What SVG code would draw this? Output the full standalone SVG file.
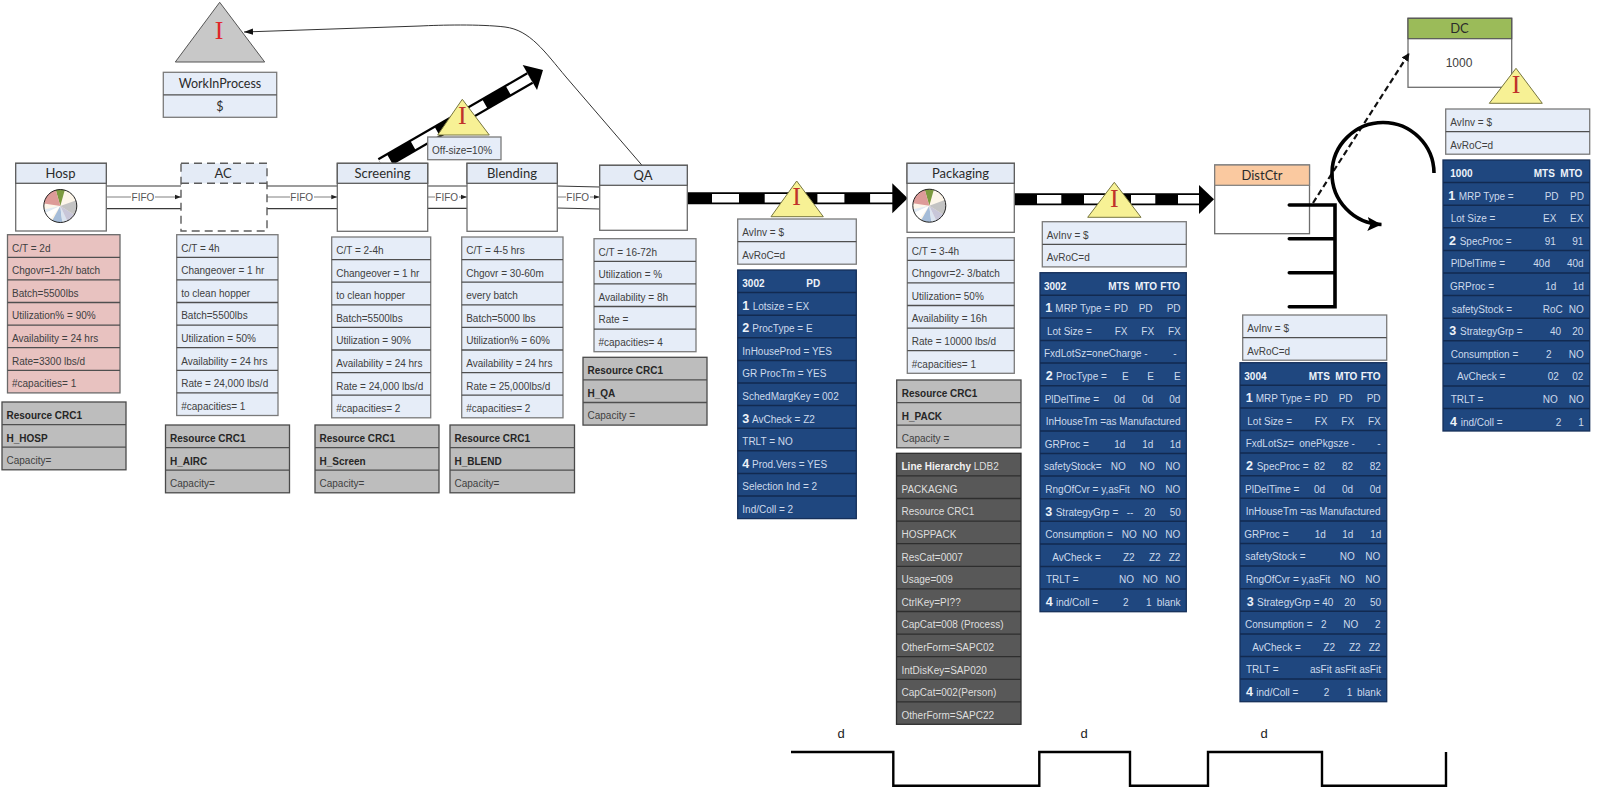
<svg xmlns="http://www.w3.org/2000/svg" width="1600" height="790" viewBox="0 0 1600 790">
<style>
text{font-family:"Liberation Sans",Arial,sans-serif;font-size:10px;fill:#404040}
.ttl{font-family:Lato,"Liberation Sans",sans-serif;font-size:13px;fill:#2b2b2b;text-anchor:middle}
.ser{font-family:"Liberation Serif",serif;font-size:26px;text-anchor:middle;fill:#c0322a}
.box{fill:#fff;stroke:#6e6e6e;stroke-width:1.3}
.hd{fill:#e4ebf6;stroke:#5c5c5c;stroke-width:1.3}
.lt{fill:#e6edf8;stroke:#7a7a7a;stroke-width:1.3}
.pk{fill:#e8c2c0;stroke:#6a6a6a;stroke-width:1.3}
.gy{fill:#bdbdbd;stroke:#4a4a4a;stroke-width:1.3}
.dk{fill:#585858;stroke:#2e2e2e;stroke-width:1.3}
.bl{fill:#1f477f;stroke:#16305a;stroke-width:1.3}
.dv{fill:none;stroke:#4f4f4f;stroke-width:1.3}
.dvb{fill:none;stroke:#122a50;stroke-width:1.5}
.dvd{fill:none;stroke:#2e2e2e;stroke-width:1.3}
.yt{fill:#f7f195;stroke:#77763f;stroke-width:1}
.dark text{fill:#dedede}
.dark .hb{fill:#f2f2f2;font-weight:bold}
.blue text{fill:#cddaec}
.blue .hb{fill:#eef3fa;font-weight:bold}
.blue .n{fill:#eef3fa;font-weight:bold;font-size:12.5px}
.grey .hb{fill:#262626;font-weight:bold}
.fifo{fill:#555;text-anchor:middle}
.tl{fill:none;stroke:#3a3a3a;stroke-width:1.2}
.fl{fill:none;stroke:#808080;stroke-width:1}
.th{fill:none;stroke:#000;stroke-width:12}
.wh{fill:none;stroke:#fff;stroke-width:8.5}
.blk{fill:#000;stroke:none}
.k4{fill:none;stroke:#000;stroke-width:3.6;stroke-linecap:round}
.stp{fill:none;stroke:#000;stroke-width:2.4}
</style>
<defs>
<marker id="sm" markerUnits="userSpaceOnUse" markerWidth="7" markerHeight="6" refX="6" refY="3" orient="auto"><path d="M0 .8L6 3L0 5.2Z" fill="#222"/></marker>
<marker id="cv" markerUnits="userSpaceOnUse" markerWidth="10" markerHeight="8" refX="9" refY="4" orient="auto"><path d="M0 .8L9 4L0 7.2Z" fill="#111"/></marker>
<marker id="ds" markerUnits="userSpaceOnUse" markerWidth="10" markerHeight="10" refX="8" refY="5" orient="auto"><path d="M0 1L8 5L0 9Z" fill="#111"/></marker>
<marker id="ar" markerUnits="userSpaceOnUse" markerWidth="16" markerHeight="14" refX="14" refY="7" orient="auto"><path d="M0 0L14 7L0 14L3 7Z" fill="#000"/></marker>
<g id="pie">
<circle r="16.5" fill="#fdf6ea"/>
<path d="M0 0L-4.5 -15.9A16.5 16.5 0 0 1 4.5 -15.9Z" fill="#7c9a3e"/>
<path d="M0 0L-4.5 -15.9A16.5 16.5 0 0 0 -16.3 -2.5Z" fill="#dd9b98"/>
<path d="M0 0L-16.3 3.5A16.5 16.5 0 0 0 -15 7Z" fill="#dfe9f3"/>
<path d="M0 0L-15 7A16.5 16.5 0 0 0 -10 13.2Z" fill="#fff"/>
<path d="M0 0L-8 14.4A16.5 16.5 0 0 0 2 16.4Z" fill="#a5bcd8"/>
<path d="M0 0L2 16.4A16.5 16.5 0 0 0 7 15Z" fill="#dbe4f0"/>
<path d="M0 0L7 15A16.5 16.5 0 0 0 14 8.8Z" fill="#c8c6d8"/>
<path d="M0 0L14 8.8A16.5 16.5 0 0 0 15.5 -5.6Z" fill="#c3c3c3"/>
<circle r="16.5" fill="none" stroke="#222" stroke-width="1"/>
</g>
</defs>

<g id="connectors">
<path class="tl" d="M106.3 186H181M106.3 208.7H181M267 186H337.3M267 208.7H337.3M427.7 186H467M427.7 208.3H467M557.3 186L599.7 187M557.3 208L599.7 209"/>
<path class="fl" d="M106.3 197H131"/><path class="fl" d="M155 197H181" marker-end="url(#sm)"/>
<path class="fl" d="M267 197H290"/><path class="fl" d="M314 197H337.3" marker-end="url(#sm)"/>
<path class="fl" d="M427.7 197H435"/><path class="fl" d="M459 197H467" marker-end="url(#sm)"/>
<path class="fl" d="M557.3 197H566"/><path class="fl" d="M590 197H599.7" marker-end="url(#sm)"/>
<text class="fifo" x="143" y="200.5">FIFO</text>
<text class="fifo" x="301.7" y="200.5">FIFO</text>
<text class="fifo" x="446.7" y="200.5">FIFO</text>
<text class="fifo" x="577.7" y="200.5">FIFO</text>
<path d="M642 165.3L566 77C545 52 530 30 505 27C480 24 440 25 420 26L244 32" fill="none" stroke="#333" stroke-width="1" marker-end="url(#cv)"/>
<path class="th" style="stroke-width:13" d="M381 164L530 78"/>
<path class="wh" d="M381 164L530 78" stroke-dasharray="28 27" stroke-dashoffset="-37"/>
<polygon class="blk" points="543,70 522.7,65 537,90"/>
<path class="th" d="M687 198.3H893"/>
<path class="wh" d="M687 198.3H893" stroke-dasharray="27 25.7" stroke-dashoffset="-25"/>
<polygon class="blk" points="907.7,198.3 892.3,183.3 892.3,213.3"/>
<path class="th" d="M1014 199.3H1200"/>
<path class="wh" d="M1014 199.3H1200" stroke-dasharray="24.3 22.7" stroke-dashoffset="-23"/>
<polygon class="blk" points="1214,199.3 1199,185 1199,214"/>
</g>

<g id="wip">
<polygon points="219.7,2.3 175.3,62 264.7,62" fill="#c8c8c8" stroke="#555" stroke-width="1"/>
<text class="ser" x="219" y="39.3" style="fill:#e0262a">I</text>
<g transform="translate(163.3 72.3)"><rect class="lt" width="113.4" height="45"/><path class="dv" d="M0 22.5H113.4"/>
<text class="ttl" x="56.7" y="16" style="font-size:12.5px">WorkInProcess</text><text class="ttl" x="56.7" y="39" style="font-size:12.5px">$</text></g>
</g>

<g id="hosp">
<rect class="box" x="15.7" y="163.3" width="90.6" height="67.7"/><rect class="hd" x="15.7" y="163.3" width="90.6" height="20"/>
<text class="ttl" x="60.5" y="178">Hosp</text>
<use href="#pie" x="60.3" y="206"/>
<g transform="translate(7.5 234.7)"><rect class="pk" width="112.5" height="158.2"/><path class="dv" d="M0 22.6H112.5M0 45.2H112.5M0 67.8H112.5M0 90.4H112.5M0 113H112.5M0 135.6H112.5"/>
<text x="4.5" y="17">C/T = 2d</text><text x="4.5" y="39.6">Chgovr=1-2h/ batch</text><text x="4.5" y="62.2">Batch=5500lbs</text><text x="4.5" y="84.8">Utilization% = 90%</text><text x="4.5" y="107.4">Availability = 24 hrs</text><text x="4.5" y="130">Rate=3300 lbs/d</text><text x="4.5" y="152.6">#capacities= 1</text></g>
<g class="grey" transform="translate(2 402)"><rect class="gy" width="124" height="67.8"/><path class="dv" d="M0 22.6H124M0 45.2H124"/>
<text class="hb" x="4.5" y="17">Resource CRC1</text><text class="hb" x="4.5" y="39.6">H_HOSP</text><text x="4.5" y="62.2">Capacity=</text></g>
</g>

<g id="ac">
<rect x="181" y="163.3" width="86" height="67.7" fill="#fff"/><rect x="181" y="163.3" width="86" height="20" fill="#e4ebf6"/>
<path d="M181 183.3H267M181 163.3H267V231H181Z" fill="none" stroke="#5c5c5c" stroke-width="1.4" stroke-dasharray="8 5"/>
<text class="ttl" x="223" y="178">AC</text>
<g transform="translate(176.7 234.7)"><rect class="lt" width="101.3" height="180.8"/><path class="dv" d="M0 22.6H101.3M0 45.2H101.3M0 67.8H101.3M0 90.4H101.3M0 113H101.3M0 135.6H101.3M0 158.2H101.3"/>
<text x="4.5" y="17">C/T = 4h</text><text x="4.5" y="39.6">Changeover = 1 hr</text><text x="4.5" y="62.2">to clean hopper</text><text x="4.5" y="84.8">Batch=5500lbs</text><text x="4.5" y="107.4">Utilization = 50%</text><text x="4.5" y="130">Availability = 24 hrs</text><text x="4.5" y="152.6">Rate = 24,000 lbs/d</text><text x="4.5" y="175.2">#capacities= 1</text></g>
<g class="grey" transform="translate(165.5 425)"><rect class="gy" width="124" height="67.8"/><path class="dv" d="M0 22.6H124M0 45.2H124"/>
<text class="hb" x="4.5" y="17">Resource CRC1</text><text class="hb" x="4.5" y="39.6">H_AIRC</text><text x="4.5" y="62.2">Capacity=</text></g>
</g>

<g id="screening">
<rect class="box" x="337.3" y="163.3" width="90.4" height="68"/><rect class="hd" x="337.3" y="163.3" width="90.4" height="20"/>
<text class="ttl" x="382.5" y="178">Screening</text>
<g transform="translate(331.7 237)"><rect class="lt" width="99" height="180.8"/><path class="dv" d="M0 22.6H99M0 45.2H99M0 67.8H99M0 90.4H99M0 113H99M0 135.6H99M0 158.2H99"/>
<text x="4.5" y="17">C/T = 2-4h</text><text x="4.5" y="39.6">Changeover = 1 hr</text><text x="4.5" y="62.2">to clean hopper</text><text x="4.5" y="84.8">Batch=5500lbs</text><text x="4.5" y="107.4">Utilization = 90%</text><text x="4.5" y="130">Availability = 24 hrs</text><text x="4.5" y="152.6">Rate = 24,000 lbs/d</text><text x="4.5" y="175.2">#capacities= 2</text></g>
<g class="grey" transform="translate(315 425)"><rect class="gy" width="124" height="67.8"/><path class="dv" d="M0 22.6H124M0 45.2H124"/>
<text class="hb" x="4.5" y="17">Resource CRC1</text><text class="hb" x="4.5" y="39.6">H_Screen</text><text x="4.5" y="62.2">Capacity=</text></g>
</g>

<g id="offsize">
<polygon class="yt" points="462.3,99.3 437.7,135 489.3,135"/>
<text class="ser" x="462.3" y="124">I</text>
<rect class="lt" x="427.7" y="137" width="73.3" height="22.7"/>
<text x="432" y="154">Off-size=10%</text>
</g>

<g id="blending">
<rect class="box" x="467" y="163.3" width="90.3" height="68"/><rect class="hd" x="467" y="163.3" width="90.3" height="20"/>
<text class="ttl" x="512" y="178">Blending</text>
<g transform="translate(461.7 237)"><rect class="lt" width="101.3" height="180.8"/><path class="dv" d="M0 22.6H101.3M0 45.2H101.3M0 67.8H101.3M0 90.4H101.3M0 113H101.3M0 135.6H101.3M0 158.2H101.3"/>
<text x="4.5" y="17">C/T = 4-5 hrs</text><text x="4.5" y="39.6">Chgovr = 30-60m</text><text x="4.5" y="62.2">every batch</text><text x="4.5" y="84.8">Batch=5000 lbs</text><text x="4.5" y="107.4">Utilization% = 60%</text><text x="4.5" y="130">Availability = 24 hrs</text><text x="4.5" y="152.6">Rate = 25,000lbs/d</text><text x="4.5" y="175.2">#capacities= 2</text></g>
<g class="grey" transform="translate(450 425)"><rect class="gy" width="124.5" height="67.8"/><path class="dv" d="M0 22.6H124.5M0 45.2H124.5"/>
<text class="hb" x="4.5" y="17">Resource CRC1</text><text class="hb" x="4.5" y="39.6">H_BLEND</text><text x="4.5" y="62.2">Capacity=</text></g>
</g>

<g id="qa">
<rect class="box" x="599.7" y="165.3" width="87.6" height="65"/><rect class="hd" x="599.7" y="165.3" width="87.6" height="20"/>
<text class="ttl" x="643" y="180">QA</text>
<g transform="translate(594 238.7)"><rect class="lt" width="102" height="113"/><path class="dv" d="M0 22.6H102M0 45.2H102M0 67.8H102M0 90.4H102"/>
<text x="4.5" y="17">C/T = 16-72h</text><text x="4.5" y="39.6">Utilization = %</text><text x="4.5" y="62.2">Availability = 8h</text><text x="4.5" y="84.8">Rate =</text><text x="4.5" y="107.4">#capacities= 4</text></g>
<g class="grey" transform="translate(583 357.3)"><rect class="gy" width="124" height="67.8"/><path class="dv" d="M0 22.6H124M0 45.2H124"/>
<text class="hb" x="4.5" y="17">Resource CRC1</text><text class="hb" x="4.5" y="39.6">H_QA</text><text x="4.5" y="62.2">Capacity =</text></g>
</g>

<g id="inv3002pd">
<polygon class="yt" points="796.7,181 771,216.7 823.3,216.7"/>
<text class="ser" x="796.7" y="205">I</text>
<g transform="translate(737.7 219)"><rect class="lt" width="118.6" height="45.2"/><path class="dv" d="M0 22.6H118.6"/><text x="4.5" y="17">AvInv = $</text><text x="4.5" y="39.6">AvRoC=d</text></g>
<g class="blue" transform="translate(737.7 270)"><rect class="bl" width="118.6" height="248.6"/><path class="dvb" d="M0 22.6H118.6M0 45.2H118.6M0 67.8H118.6M0 90.4H118.6M0 113H118.6M0 135.6H118.6M0 158.2H118.6M0 180.8H118.6M0 203.4H118.6M0 226H118.6"/>
<text class="hb" x="4.6" y="17">3002</text><text class="hb" x="68.6" y="17">PD</text>
<text class="n" x="4.6" y="39.6">1</text><text x="15" y="39.6">Lotsize = EX</text>
<text class="n" x="4.6" y="62.2">2</text><text x="14.6" y="62.2">ProcType = E</text>
<text x="4.6" y="84.8">InHouseProd = YES</text>
<text x="4.6" y="107.4">GR ProcTm = YES</text>
<text x="4.6" y="130">SchedMargKey = 002</text>
<text class="n" x="4.6" y="152.6">3</text><text x="14.3" y="152.6">AvCheck = Z2</text>
<text x="4.6" y="175.2">TRLT = NO</text>
<text class="n" x="4.6" y="197.8">4</text><text x="14.3" y="197.8">Prod.Vers = YES</text>
<text x="4.6" y="220.4">Selection Ind = 2</text>
<text x="4.6" y="243">Ind/Coll = 2</text></g>
</g>

<g id="packaging">
<rect class="box" x="907" y="163.3" width="107.3" height="69"/><rect class="hd" x="907" y="163.3" width="107.3" height="20"/>
<text class="ttl" x="960.5" y="178">Packaging</text>
<use href="#pie" x="929.3" y="205.7"/>
<g transform="translate(907.3 237.7)"><rect class="lt" width="107" height="135.6"/><path class="dv" d="M0 22.6H107M0 45.2H107M0 67.8H107M0 90.4H107M0 113H107"/>
<text x="4.5" y="17">C/T = 3-4h</text><text x="4.5" y="39.6">Chngovr=2- 3/batch</text><text x="4.5" y="62.2">Utilization= 50%</text><text x="4.5" y="84.8">Availability = 16h</text><text x="4.5" y="107.4">Rate = 10000 lbs/d</text><text x="4.5" y="130">#capacities= 1</text></g>
<g class="grey" transform="translate(896.7 380)"><rect class="gy" width="124.3" height="67.8"/><path class="dv" d="M0 22.6H124.3M0 45.2H124.3"/>
<text class="hb" x="5" y="17">Resource CRC1</text><text class="hb" x="5" y="39.6">H_PACK</text><text x="5" y="62.2">Capacity =</text></g>
<g class="dark" transform="translate(896.5 453.3)"><rect class="dk" width="124.5" height="271"/><path class="dvd" d="M0 22.6H124.5M0 45.2H124.5M0 67.8H124.5M0 90.4H124.5M0 113H124.5M0 135.6H124.5M0 158.2H124.5M0 180.8H124.5M0 203.4H124.5M0 226H124.5M0 248.6H124.5"/>
<text x="5" y="17"><tspan class="hb">Line Hierarchy</tspan> LDB2</text>
<text x="5" y="39.6">PACKAGNG</text><text x="5" y="62.2">Resource CRC1</text><text x="5" y="84.8">HOSPPACK</text><text x="5" y="107.4">ResCat=0007</text><text x="5" y="130">Usage=009</text><text x="5" y="152.6">CtrlKey=PI??</text><text x="5" y="175.2">CapCat=008 (Process)</text><text x="5" y="197.8">OtherForm=SAPC02</text><text x="5" y="220.4">IntDisKey=SAP020</text><text x="5" y="243">CapCat=002(Person)</text><text x="5" y="265.6">OtherForm=SAPC22</text></g>
</g>

<g id="inv3002">
<polygon class="yt" points="1114.3,182.3 1087.7,217.3 1141,217.3"/>
<text class="ser" x="1114.3" y="206.7">I</text>
<g transform="translate(1042.3 221.7)"><rect class="lt" width="144" height="45.2"/><path class="dv" d="M0 22.6H144"/><text x="4.5" y="17">AvInv = $</text><text x="4.5" y="39.6">AvRoC=d</text></g>
<g class="blue" transform="translate(1040 272.7)"><rect class="bl" width="146.3" height="339"/><path class="dvb" d="M0 22.6H146.3M0 45.2H146.3M0 67.8H146.3M0 90.4H146.3M0 113H146.3M0 135.6H146.3M0 158.2H146.3M0 180.8H146.3M0 203.4H146.3M0 226H146.3M0 248.6H146.3M0 271.2H146.3M0 293.8H146.3M0 316.4H146.3"/>
<text class="hb" x="4" y="17">3002</text><text class="hb" x="68.3" y="17">MTS</text><text class="hb" x="95" y="17">MTO</text><text class="hb" x="120.3" y="17">FTO</text>
<text class="n" x="5.3" y="39.6">1</text><text x="15.3" y="39.6">MRP Type =</text><text x="74" y="39.6">PD</text><text x="98.7" y="39.6">PD</text><text x="126.7" y="39.6">PD</text>
<text x="7" y="62.2">Lot Size =</text><text x="74.7" y="62.2">FX</text><text x="101.3" y="62.2">FX</text><text x="128" y="62.2">FX</text>
<text x="4" y="84.8">FxdLotSz=oneCharge -</text><text x="133.3" y="84.8">-</text>
<text class="n" x="5.7" y="107.4">2</text><text x="16" y="107.4">ProcType  =</text><text x="82" y="107.4">E</text><text x="107.3" y="107.4">E</text><text x="134" y="107.4">E</text>
<text x="4.7" y="130">PlDelTime =</text><text x="74" y="130">0d</text><text x="102" y="130">0d</text><text x="129.3" y="130">0d</text>
<text x="5.7" y="152.6">InHouseTm =as Manufactured</text>
<text x="4.7" y="175.2">GRProc =</text><text x="74.3" y="175.2">1d</text><text x="102.3" y="175.2">1d</text><text x="129.7" y="175.2">1d</text>
<text x="4" y="197.8">safetyStock=</text><text x="70.7" y="197.8">NO</text><text x="99.7" y="197.8">NO</text><text x="125.3" y="197.8">NO</text>
<text x="5.3" y="220.4">RngOfCvr = y,asFit</text><text x="99.7" y="220.4">NO</text><text x="125.3" y="220.4">NO</text>
<text class="n" x="5.3" y="243">3</text><text x="15.7" y="243">StrategyGrp =</text><text x="86.7" y="243">--</text><text x="104.3" y="243">20</text><text x="129.7" y="243">50</text>
<text x="5.3" y="265.6">Consumption =</text><text x="81.7" y="265.6">NO</text><text x="102.3" y="265.6">NO</text><text x="125.3" y="265.6">NO</text>
<text x="12.3" y="288.2">AvCheck =</text><text x="83" y="288.2">Z2</text><text x="109" y="288.2">Z2</text><text x="128.7" y="288.2">Z2</text>
<text x="6" y="310.8">TRLT =</text><text x="79" y="310.8">NO</text><text x="102.7" y="310.8">NO</text><text x="125.3" y="310.8">NO</text>
<text class="n" x="5.7" y="333.4">4</text><text x="16" y="333.4">ind/Coll =</text><text x="83" y="333.4">2</text><text x="106" y="333.4">1</text><text x="116.7" y="333.4">blank</text></g>
</g>

<g id="distctr">
<rect class="box" x="1214.7" y="165" width="94.8" height="68.7"/><rect x="1214.7" y="165" width="94.8" height="20.3" fill="#fac9a0" stroke="#7c7c7c" stroke-width="1.2"/>
<text class="ttl" x="1262" y="180">DistCtr</text>
<g transform="translate(1242.7 315)"><rect class="lt" width="144" height="45.2"/><path class="dv" d="M0 22.6H144"/><text x="4.5" y="17">AvInv = $</text><text x="4.5" y="39.6">AvRoC=d</text></g>
<g class="blue" transform="translate(1240 362.7)"><rect class="bl" width="146.7" height="339"/><path class="dvb" d="M0 22.6H146.7M0 45.2H146.7M0 67.8H146.7M0 90.4H146.7M0 113H146.7M0 135.6H146.7M0 158.2H146.7M0 180.8H146.7M0 203.4H146.7M0 226H146.7M0 248.6H146.7M0 271.2H146.7M0 293.8H146.7M0 316.4H146.7"/>
<text class="hb" x="4.3" y="17">3004</text><text class="hb" x="68.7" y="17">MTS</text><text class="hb" x="95.3" y="17">MTO</text><text class="hb" x="120.7" y="17">FTO</text>
<text class="n" x="5.7" y="39.6">1</text><text x="15.7" y="39.6">MRP Type =</text><text x="74" y="39.6">PD</text><text x="98.7" y="39.6">PD</text><text x="126.7" y="39.6">PD</text>
<text x="7.3" y="62.2">Lot Size =</text><text x="74.7" y="62.2">FX</text><text x="101.3" y="62.2">FX</text><text x="128" y="62.2">FX</text>
<text x="5.7" y="84.8">FxdLotSz=</text><text x="59.3" y="84.8">onePkgsze -</text><text x="137.3" y="84.8">-</text>
<text class="n" x="6" y="107.4">2</text><text x="16.7" y="107.4">SpecProc =</text><text x="74" y="107.4">82</text><text x="102" y="107.4">82</text><text x="129.7" y="107.4">82</text>
<text x="5" y="130">PlDelTime =</text><text x="74" y="130">0d</text><text x="102" y="130">0d</text><text x="129.7" y="130">0d</text>
<text x="5.7" y="152.6">InHouseTm =as Manufactured</text>
<text x="4.3" y="175.2">GRProc =</text><text x="74.7" y="175.2">1d</text><text x="102.3" y="175.2">1d</text><text x="130.3" y="175.2">1d</text>
<text x="5.3" y="197.8">safetyStock =</text><text x="99.7" y="197.8">NO</text><text x="125.3" y="197.8">NO</text>
<text x="5.7" y="220.4">RngOfCvr = y,asFit</text><text x="99.7" y="220.4">NO</text><text x="125.3" y="220.4">NO</text>
<text class="n" x="6.7" y="243">3</text><text x="17" y="243">StrategyGrp = 40</text><text x="104.3" y="243">20</text><text x="130" y="243">50</text>
<text x="5" y="265.6">Consumption =</text><text x="81" y="265.6">2</text><text x="103.3" y="265.6">NO</text><text x="135" y="265.6">2</text>
<text x="12.3" y="288.2">AvCheck =</text><text x="83.3" y="288.2">Z2</text><text x="109" y="288.2">Z2</text><text x="128.7" y="288.2">Z2</text>
<text x="6" y="310.8">TRLT =</text><text x="70" y="310.8">asFit</text><text x="94.7" y="310.8">asFit</text><text x="119.3" y="310.8">asFit</text>
<text class="n" x="6" y="333.4">4</text><text x="16.3" y="333.4">ind/Coll =</text><text x="83.7" y="333.4">2</text><text x="106.7" y="333.4">1</text><text x="117" y="333.4">blank</text></g>
</g>

<g id="dc">
<rect class="box" x="1408" y="18.3" width="103.7" height="69"/><rect x="1408" y="18.3" width="103.7" height="20.4" fill="#9bbb59" stroke="#555" stroke-width="1.2"/>
<text class="ttl" x="1459.5" y="33">DC</text>
<text x="1459" y="67" text-anchor="middle" style="font-size:12px">1000</text>
<polygon class="yt" points="1516,68.3 1489.3,103.3 1542.3,103.3"/>
<text class="ser" x="1516" y="93.3">I</text>
<g transform="translate(1445.7 109)"><rect class="lt" width="144" height="45.2"/><path class="dv" d="M0 22.6H144"/><text x="4.5" y="17">AvInv = $</text><text x="4.5" y="39.6">AvRoC=d</text></g>
<g class="blue" transform="translate(1443 160)"><rect class="bl" width="146.7" height="271"/><path class="dvb" d="M0 22.6H146.7M0 45.2H146.7M0 67.8H146.7M0 90.4H146.7M0 113H146.7M0 135.6H146.7M0 158.2H146.7M0 180.8H146.7M0 203.4H146.7M0 226H146.7M0 248.6H146.7"/>
<text class="hb" x="7.3" y="17">1000</text><text class="hb" x="90.7" y="17">MTS</text><text class="hb" x="117.3" y="17">MTO</text>
<text class="n" x="5.3" y="39.6">1</text><text x="15.7" y="39.6">MRP Type =</text><text x="101.7" y="39.6">PD</text><text x="127" y="39.6">PD</text>
<text x="7.7" y="62.2">Lot Size =</text><text x="100" y="62.2">EX</text><text x="127" y="62.2">EX</text>
<text class="n" x="6" y="84.8">2</text><text x="16.7" y="84.8">SpecProc =</text><text x="101.7" y="84.8">91</text><text x="129.3" y="84.8">91</text>
<text x="7.7" y="107.4">PlDelTime =</text><text x="90.3" y="107.4">40d</text><text x="124" y="107.4">40d</text>
<text x="7" y="130">GRProc =</text><text x="102.3" y="130">1d</text><text x="129.7" y="130">1d</text>
<text x="8.7" y="152.6">safetyStock =</text><text x="99.7" y="152.6">RoC</text><text x="125.7" y="152.6">NO</text>
<text class="n" x="6.3" y="175.2">3</text><text x="17" y="175.2">StrategyGrp =</text><text x="107" y="175.2">40</text><text x="129.3" y="175.2">20</text>
<text x="7.7" y="197.8">Consumption =</text><text x="103" y="197.8">2</text><text x="125.7" y="197.8">NO</text>
<text x="14" y="220.4">AvCheck =</text><text x="104.7" y="220.4">02</text><text x="129.3" y="220.4">02</text>
<text x="7.7" y="243">TRLT =</text><text x="99.7" y="243">NO</text><text x="125.7" y="243">NO</text>
<text class="n" x="7" y="265.6">4</text><text x="17.7" y="265.6">ind/Coll =</text><text x="112.7" y="265.6">2</text><text x="135.3" y="265.6">1</text></g>
</g>

<g id="shipping">
<path d="M1313 203L1409.3 53" fill="none" stroke="#111" stroke-width="2.2" stroke-dasharray="6 3.5" marker-end="url(#ds)"/>
<path d="M1434 173A51 51 0 1 0 1381.5 224.5" fill="none" stroke="#000" stroke-width="3.6" marker-end="url(#ar)"/>
<path class="k4" d="M1289.3 205H1335V306.7H1289.3M1289.3 238.7H1335M1289.3 272.7H1335"/>
</g>

<g id="demand">
<path class="stp" d="M791 752H893.3V785.7H1039.3V752H1130V785.7H1208V752H1322V785.7H1446V752"/>
<text x="841" y="737.5" text-anchor="middle" style="font-size:13px;fill:#222">d</text>
<text x="1084" y="737.5" text-anchor="middle" style="font-size:13px;fill:#222">d</text>
<text x="1264" y="737.5" text-anchor="middle" style="font-size:13px;fill:#222">d</text>
</g>
</svg>
